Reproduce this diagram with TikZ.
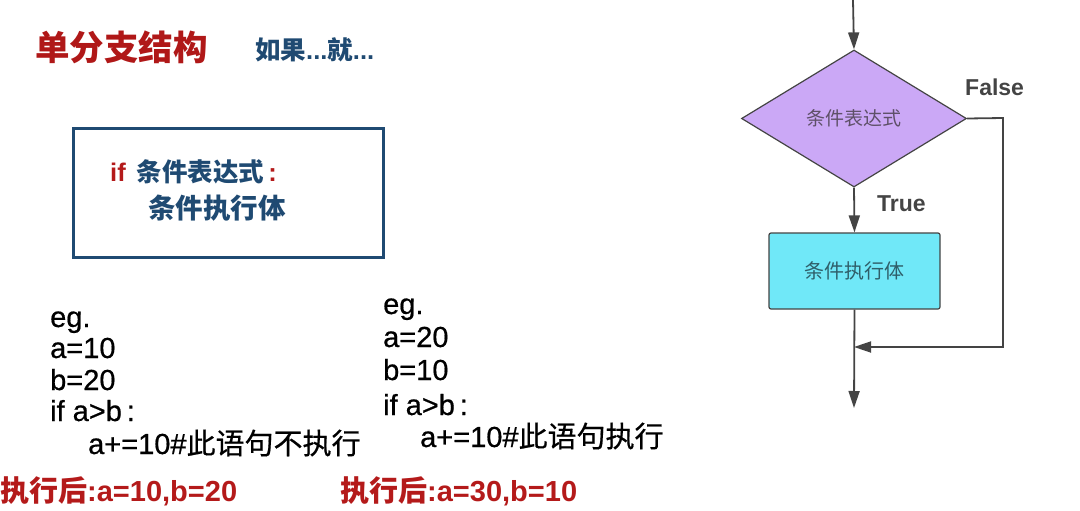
\documentclass[tikz,border=0pt]{standalone}
\usepackage{fontspec}
\setmainfont{Liberation Sans}
\newfontfamily\cjk{Noto Sans CJK SC}
\newfontfamily\codefont[FakeBold=0.6]{Liberation Sans}
\newfontfamily\cjkcode[FakeBold=0.6]{Noto Sans CJK SC}
\usetikzlibrary{shapes.geometric,arrows.meta}
\definecolor{titlered}{HTML}{B01818}
\definecolor{codered}{HTML}{B41A1A}
\definecolor{navy}{HTML}{1F4A72}
\definecolor{flowline}{HTML}{444444}
\definecolor{lavender}{HTML}{CBA8F6}
\definecolor{cyanbox}{HTML}{70E8F8}
\definecolor{condtext}{HTML}{5E5068}
\definecolor{bodytext}{HTML}{2F5F6A}
\tikzset{
  codeline/.style={anchor=west,inner sep=0,font=\fontsize{29}{32}\selectfont\codefont,text height=20pt,text depth=6pt},
  redline/.style={anchor=west,inner sep=0,text height=20pt,text depth=6pt,text=codered,font=\fontsize{29}{32}\selectfont\bfseries},
  flowarrow/.style={draw=flowline,line width=1.8pt,-{Triangle[length=17pt,width=11pt]}},
  flowlabel/.style={anchor=west,inner sep=0,text=flowline,font=\fontsize{23}{26}\selectfont\bfseries},
}
\begin{document}
\begin{tikzpicture}[x=1pt,y=-1pt]
\useasboundingbox (0,0) rectangle (1080,511);
% title
\node[anchor=west,inner sep=0,text=titlered,font=\fontsize{34.5}{38}\selectfont\cjk\bfseries] (title) at (35,47) {单分支结构};
\node[anchor=west,inner sep=0,text=navy,font=\fontsize{25.5}{28}\selectfont\bfseries] (sub) at (255,50) {{\cjk 如果}...{\cjk 就}...};
% syntax box
\node[draw=navy,line width=3pt,minimum width=310pt,minimum height=129pt,inner sep=0] (synbox) at (228,192.5) {};
\node[anchor=west,inner sep=0,font=\fontsize{25.5}{28}\selectfont\bfseries] (syn1) at (110,172) {\textcolor{codered}{if}\hspace{4pt} \textcolor{navy}{\cjk 条件表达式}\hspace{4pt}\textcolor{codered}{:}};
\node[anchor=west,inner sep=0,text=navy,font=\fontsize{27.5}{30}\selectfont\cjk\bfseries] (syn2) at (148,208) {条件执行体};
% left example
\node[codeline] (l1) at (50,320) {eg.};
\node[codeline] (l2) at (50,351) {a=10};
\node[codeline] (l3) at (50,383) {b=20};
\node[codeline] (l4) at (50,414) {if a>b\,:};
\node[codeline] (l5) at (88,447) {a+=10\#{\cjkcode 此语句不执行}};
\node[redline] (r1) at (0,494) {{\cjk 执行后}:a=10,b=20};
% right example
\node[codeline] (m1) at (383,307) {eg.};
\node[codeline] (m2) at (383,340) {a=20};
\node[codeline] (m3) at (383,373) {b=10};
\node[codeline] (m4) at (383,408) {if a>b\,:};
\node[codeline] (m5) at (420,440) {a+=10\#{\cjkcode 此语句执行}};
\node[redline] (r2) at (340,494) {{\cjk 执行后}:a=30,b=10};
% flowchart
\coordinate (start) at (853,0);
\node[diamond,draw=flowline,line width=1.2pt,fill=lavender,minimum width=225pt,minimum height=137pt,inner sep=0,text=condtext,font=\fontsize{19}{22}\selectfont\cjk] (cond) at (854,118.5) {条件表达式};
\node[draw=flowline,line width=1.2pt,fill=cyanbox,rounded corners=2pt,minimum width=171pt,minimum height=76pt,inner sep=0,text=bodytext,font=\fontsize{20}{23}\selectfont\cjk] (body) at (854.5,271) {条件执行体};
\coordinate (fend) at (1003,118);
\coordinate (fdown) at (1003,347);
\coordinate (join) at (854,347);
\coordinate (finish) at (854,408);
\draw[flowarrow] (start) -- (cond.north);
\draw[flowarrow] (cond.south) -- (body.north);
\draw[flowarrow] (body.south) -- (finish);
\draw[flowarrow] (cond.east) -- (fend) -- (fdown) -- (join);
\node[flowlabel] (truelbl) at (877,204) {True};
\node[flowlabel] (falselbl) at (965,87) {False};
\end{tikzpicture}
\end{document}
